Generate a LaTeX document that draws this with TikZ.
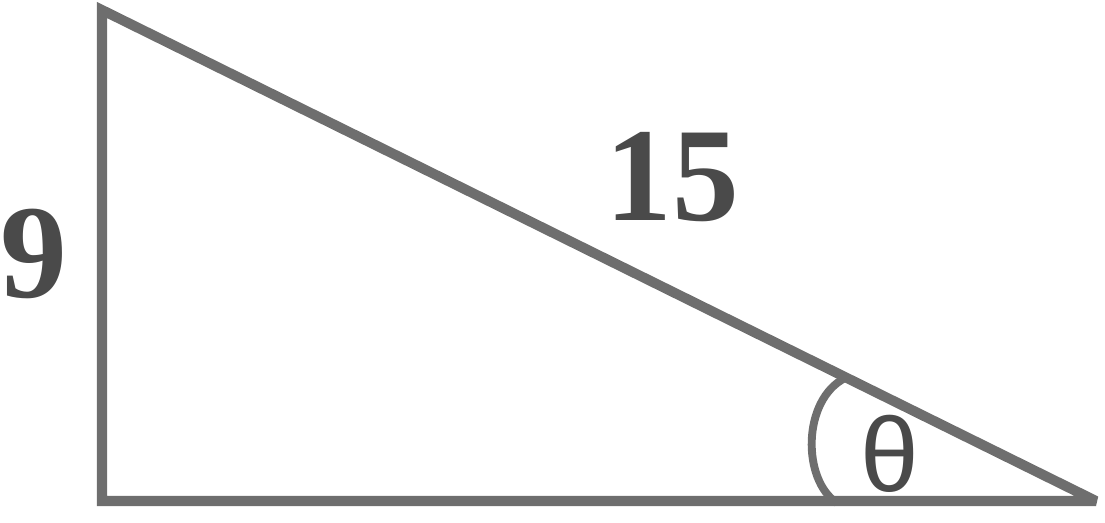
\documentclass[tikz,border=0pt]{standalone}
\usepackage{fontspec}
\setmainfont{Liberation Serif}
\newfontfamily\thetafont{Liberation Sans}
\usepackage{tikz}

\definecolor{edgegray}{HTML}{6E6E6E}
\definecolor{labelgray}{HTML}{4A4A4A}

\begin{document}
\begin{tikzpicture}[x = .02cm, y = -.02cm,
    side/.style = {draw=edgegray, line width=5.7pt, line join=miter, miter limit=2},
    numlabel/.style = {inner sep=0pt, text=labelgray, font=\fontsize{76}{76}\selectfont\bfseries}]
        \useasboundingbox (0,0) rectangle (1105,523);
        \coordinate (top) at (102,10);
        \coordinate (corner) at (102,501);
        \coordinate (tip) at (1096,501);
        \draw[side] (top) -- (corner) -- (tip) -- cycle;
        \coordinate (arcstart) at (845,378);
        \coordinate (arcend) at (837,503);
        \draw[edgegray, line width=4.5pt] (arcstart) .. controls (802,400) and (802,480) .. (arcend);
        \node[numlabel] (leg) at (34,254) {9};
        \node[numlabel] (hyp) at (672,177) {15};
        \node[inner sep=0pt, text=labelgray, font=\fontsize{60}{60}\selectfont\thetafont] (angle) at (890,454) {θ};
      \end{tikzpicture}
\end{document}
